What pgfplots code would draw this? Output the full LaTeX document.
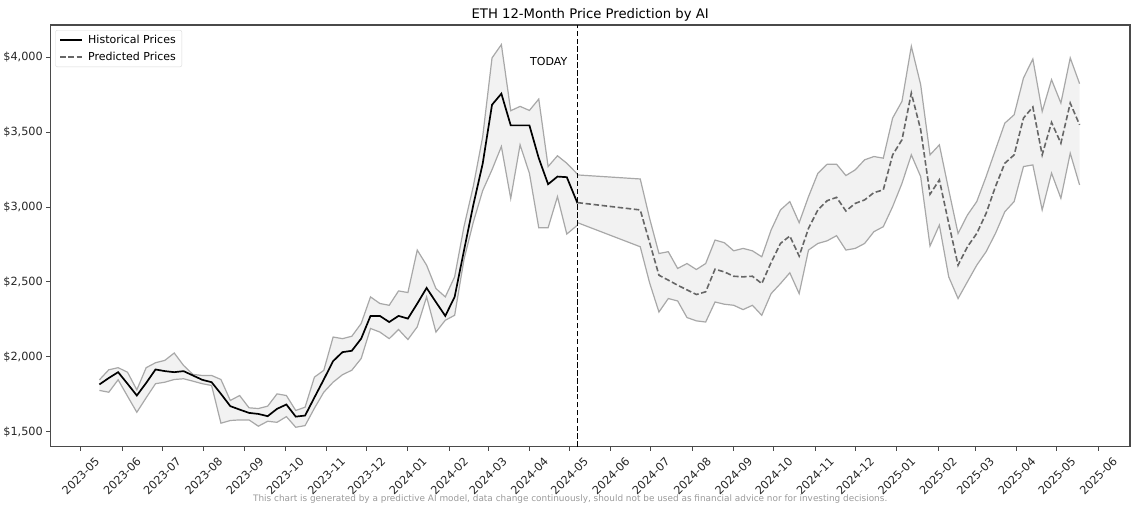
\documentclass[border=0pt]{standalone}
\usepackage{fontspec}
\setmainfont{DejaVu Sans}
\usepackage{pgfplots}
\pgfplotsset{compat=1.18}
\usepackage{pgfplotstable}
\usepgfplotslibrary{fillbetween}

\definecolor{bandfill}{HTML}{F2F2F2}
\definecolor{bandedge}{HTML}{A8A8A8}
\definecolor{predline}{HTML}{666666}
\definecolor{frame}{HTML}{4A4A4A}
\definecolor{foot}{HTML}{9A9A9A}

% day = days since 2023-05-01
\pgfplotstableread{
day mean upper lower
14 1815 1846 1775
21 1858 1913 1763
28 1897 1927 1846
35 1820 1897 1737
42 1741 1779 1629
49 1825 1927 1726
56 1915 1960 1820
63 1904 1976 1830
70 1897 2025 1848
77 1904 1942 1853
84 1875 1882 1837
91 1846 1875 1820
98 1830 1875 1808
105 1752 1848 1556
112 1670 1708 1574
119 1647 1741 1578
126 1625 1659 1578
133 1618 1654 1536
140 1603 1670 1569
147 1652 1752 1562
154 1681 1741 1600
161 1600 1641 1529
168 1607 1663 1540
175 1728 1864 1656
182 1848 1909 1763
189 1971 2132 1830
196 2031 2121 1880
203 2040 2137 1910
210 2121 2222 1988
217 2273 2400 2189
224 2273 2356 2165
231 2232 2344 2121
238 2273 2440 2182
245 2255 2429 2115
252 2355 2713 2200
259 2460 2612 2400
266 2365 2456 2165
273 2273 2400 2244
280 2400 2534 2277
287 2710 2870 2650
294 3015 3140 2900
301 3290 3470 3110
308 3684 3997 3250
315 3758 4086 3405
322 3546 3644 3058
329 3546 3673 3416
336 3546 3646 3226
343 3327 3722 2862
350 3153 3271 2862
357 3204 3343 3070
364 3200 3293 2820
372 3026 3220 2880
}\hist

\pgfplotstableread{
day mean upper lower
372 3030 3215 2896
419 2981 3188 2735
426 2764 2925 2494
433 2545 2690 2299
440 2512 2702 2389
447 2478 2590 2373
454 2447 2623 2262
461 2416 2583 2240
468 2434 2623 2232
475 2585 2780 2366
482 2567 2762 2351
489 2538 2708 2344
496 2534 2724 2315
503 2538 2708 2344
510 2489 2668 2277
517 2630 2847 2422
524 2757 2981 2489
531 2807 3037 2561
538 2673 2896 2422
545 2858 3070 2713
552 2981 3226 2757
559 3043 3287 2775
566 3065 3287 2809
573 2974 3211 2713
580 3025 3249 2724
587 3048 3316 2757
594 3097 3338 2836
601 3115 3327 2869
608 3349 3595 3003
615 3450 3707 3159
622 3762 4075 3349
629 3517 3818 3204
636 3086 3349 2740
643 3182 3416 2880
650 2891 3115 2534
657 2612 2824 2389
664 2735 2947 2501
671 2824 3037 2612
678 2958 3204 2702
685 3137 3383 2824
692 3293 3561 2969
699 3349 3617 3037
706 3595 3863 3271
713 3669 3990 3282
720 3349 3639 2981
727 3566 3852 3227
734 3427 3695 3059
741 3695 3997 3360
748 3550 3825 3148
}\pred

\begin{document}
\begin{tikzpicture}
\begin{axis}[
  anchor=south west, at={(0,0)},
  scale only axis, width=1080bp, height=422bp,
  xmin=-22.75, xmax=785.75, ymin=1398, ymax=4217,
  axis line style={frame, line width=1.1bp},
  tick pos=left, tick align=outside, major tick length=4bp,
  tick style={frame, line width=1bp},
  xtick={0,31,61,92,123,153,184,214,245,276,305,336,366,397,427,458,489,519,550,580,611,642,670,701,731,762},
  xticklabels={2023-05,2023-06,2023-07,2023-08,2023-09,2023-10,2023-11,2023-12,2024-01,2024-02,2024-03,2024-04,2024-05,2024-06,2024-07,2024-08,2024-09,2024-10,2024-11,2024-12,2025-01,2025-02,2025-03,2025-04,2025-05,2025-06},
  ytick={1500,2000,2500,3000,3500,4000},
  yticklabels={{\$1,500},{\$2,000},{\$2,500},{\$3,000},{\$3,500},{\$4,000}},
  xticklabel style={font=\fontsize{11.3bp}{13bp}\selectfont, text=black!85, yshift=-25bp, rotate=45, anchor=center},
  yticklabel style={font=\fontsize{11.3bp}{13bp}\selectfont, text=black!85},
  title={ETH 12-Month Price Prediction by AI},
  title style={font=\fontsize{13.2bp}{15bp}\selectfont, at={(0.5,1)}, anchor=base, yshift=0.5bp, inner sep=0pt},
  legend style={at={(0.0046,0.988)}, anchor=north west, draw=black!15, rounded corners=2bp, fill=white,
    font=\fontsize{11bp}{13bp}\selectfont, row sep=3bp, inner xsep=4bp, inner ysep=3bp,
    /tikz/every odd column/.append style={column sep=3bp}},
  legend cell align=left,
  legend image code/.code={\draw[#1] (0bp,0bp) -- (22bp,0bp);},
]
\addplot[draw=none, name path=hu, forget plot] table[x=day,y=upper]{\hist};
\addplot[draw=none, name path=hl, forget plot] table[x=day,y=lower]{\hist};
\addplot[bandfill, forget plot] fill between[of=hu and hl];
\addplot[draw=none, name path=pu, forget plot] table[x=day,y=upper]{\pred};
\addplot[draw=none, name path=pl, forget plot] table[x=day,y=lower]{\pred};
\addplot[bandfill, forget plot] fill between[of=pu and pl];
\addplot[bandedge, line width=1.2bp, forget plot] table[x=day,y=upper]{\hist};
\addplot[bandedge, line width=1.2bp, forget plot] table[x=day,y=lower]{\hist};
\addplot[bandedge, line width=1.2bp, forget plot] table[x=day,y=upper]{\pred};
\addplot[bandedge, line width=1.2bp, forget plot] table[x=day,y=lower]{\pred};
\addplot[black, line width=1.7bp] table[x=day,y=mean]{\hist};
\addlegendentry{Historical Prices}
\addplot[predline, line width=1.6bp, dash pattern=on 5.5bp off 2.6bp] table[x=day,y=mean]{\pred};
\addlegendentry{Predicted Prices}
\addplot[black, line width=1.6bp, dash pattern=on 5.5bp off 2.4bp, forget plot] coordinates {(372,1398) (372,4217)};
\node[anchor=base east, inner sep=0pt, font=\fontsize{11bp}{13bp}\selectfont] at (axis cs:364.5,3947) {TODAY};
\end{axis}
\node[anchor=base, inner sep=0pt, font=\fontsize{8.9bp}{10.5bp}\selectfont, text=foot] at (520bp,-55bp) {This chart is generated by a predictive AI model, data change continuously, should not be used as financial advice nor for investing decisions.};
\path (-50bp,-60bp) rectangle (1090bp,447bp);
\end{tikzpicture}
\end{document}
